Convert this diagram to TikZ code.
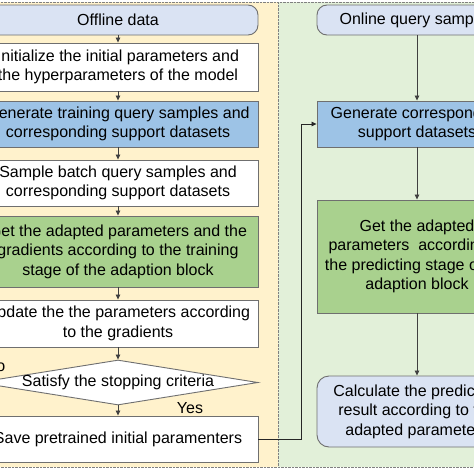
\documentclass[tikz,border=0pt]{standalone}
\usepackage{fontspec}
\setmainfont{Liberation Sans}
\usetikzlibrary{shapes.geometric,arrows.meta}
\definecolor{cream}{HTML}{FFF2CC}
\definecolor{lightgreen}{HTML}{E2F0D9}
\definecolor{boxblue}{HTML}{9DC3E6}
\definecolor{boxgreen}{HTML}{A9D18E}
\definecolor{lavender}{HTML}{DAE3F3}
\definecolor{edgegray}{HTML}{6F6F6F}
\tikzset{
  box/.style={draw=edgegray, line width=0.9pt, align=center, inner sep=0pt, font=\fontsize{16}{19.5}\selectfont},
  lbox/.style={box, minimum width=280pt},
  rbox/.style={box, minimum width=200pt},
  flow/.style={black!75, line width=0.8pt, -{Triangle[length=5pt,width=4.5pt]}}
}

\begin{document}
\begin{tikzpicture}[x=1pt,y=-1pt]
\useasboundingbox (0,0) rectangle (474,474);
\clip (0,0) rectangle (474,474);
\fill[white] (0,0) rectangle (474,474);
\draw[densely dotted, gray, fill=cream] (-30,2) rectangle (278,467);
\draw[densely dotted, gray, fill=lightgreen] (278,2) rectangle (540,467);

\node[lbox, fill=lavender, rounded corners=10pt, minimum height=30pt] (off) at (118,20) {Offline data};
\node[lbox, fill=white, minimum height=48pt] (init) at (118,67) {Initialize the initial parameters and\\the hyperparameters of the model};
\node[lbox, fill=boxblue, minimum height=46pt] (gen) at (118,124) {Generate training query samples and\\corresponding support datasets};
\node[lbox, fill=white, minimum height=46pt] (samp) at (118,183) {Sample batch query samples and\\corresponding support datasets};
\node[lbox, fill=boxgreen, minimum height=71pt] (adapt) at (118,251.5) {Get the adapted parameters and the\\gradients according to the training\\stage of the adaption block};
\node[lbox, fill=white, minimum height=47pt] (upd) at (118,323.5) {Update the the parameters according\\to the gradients};
\node[box, diamond, aspect=6.2, inner xsep=-40pt, fill=white, minimum width=280pt, minimum height=45pt] (sat) at (118,382.5) {Satisfy the stopping criteria};
\node[lbox, fill=white, minimum height=46pt] (save) at (118,439) {Save pretrained initial paramenters};
\node[font=\fontsize{16}{19.5}\selectfont] (no) at (-5,366) {No};
\node[font=\fontsize{16}{19.5}\selectfont] (yes) at (190,408) {Yes};

\node[rbox, fill=lavender, rounded corners=10pt, minimum height=30pt] (onl) at (417,20) {Online query samples};
\node[rbox, fill=boxblue, minimum height=46pt] (rgen) at (417,124) {Generate corresponding\\support datasets};
\node[rbox, fill=boxgreen, minimum height=113pt] (radapt) at (417,256.5) {Get the adapted\\parameters\ \ according to\\the predicting stage of the\\adaption block};
\node[rbox, fill=lavender, rounded corners=12pt, minimum height=71pt] (rcalc) at (417,411.5) {Calculate the predicting\\result according to the\\adapted parameters};

\foreach \a/\b in {off/init,init/gen,gen/samp,samp/adapt,adapt/upd,upd/sat,sat/save,onl/rgen,rgen/radapt,radapt/rcalc}
  \draw[flow] (\a) -- (\b);

\coordinate (turn) at (301,439);
\draw[flow, black!85] (save.east) -- (turn) |- (rgen.west);
\end{tikzpicture}
\end{document}
